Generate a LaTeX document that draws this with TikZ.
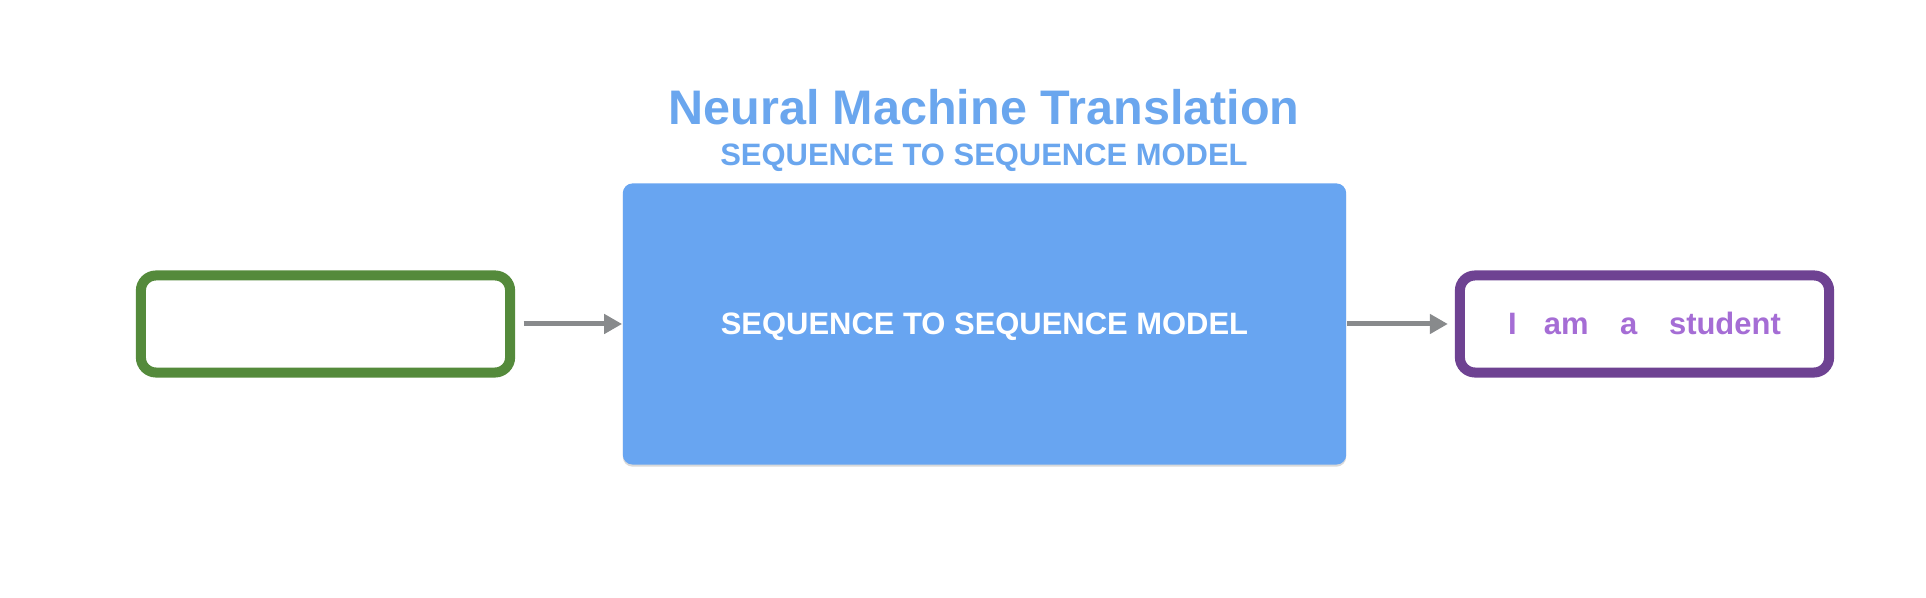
\documentclass[tikz,border=0pt]{standalone}
\usepackage{fontspec}
\setmainfont{Liberation Sans}
\usetikzlibrary{arrows.meta,shadows}
\definecolor{nmtblue}{HTML}{68A5F1}
\definecolor{titleblue}{HTML}{6AA6EE}
\definecolor{boxgreen}{HTML}{548A3B}
\definecolor{boxpurple}{HTML}{6E4292}
\definecolor{textpurple}{HTML}{A56DD5}
\definecolor{arrowgray}{HTML}{888A8C}
\tikzset{
  iobox/.style={draw, line width=2.85pt, rounded corners=4.3pt, fill=white,
    minimum width=3.69cm, minimum height=0.97cm, inner sep=0pt,
    text height=2.2mm, text depth=0pt},
  modelbox/.style={fill=nmtblue, rounded corners=2.8pt, inner sep=0pt,
    minimum width=7.23cm, minimum height=2.81cm,
    text height=2.2mm, text depth=0pt,
    drop shadow={shadow xshift=0pt, shadow yshift=-0.6pt, opacity=0.25, fill=black!60}},
  smalltxt/.style={font=\fontsize{8.8pt}{10pt}\selectfont\bfseries},
  titletxt/.style={font=\fontsize{13.8pt}{16pt}\selectfont\bfseries, text=titleblue, inner sep=0pt, anchor=base},
  flow/.style={draw=arrowgray, line width=1.42pt, -{Triangle[length=5.1pt, width=5.4pt]}}
}
\begin{document}
\begin{tikzpicture}[x=0.01cm, y=-0.01cm]
  \useasboundingbox (0,0) rectangle (1926,598);
  \node[titletxt] (title) at (984,125) {Neural Machine Translation};
  \node[titletxt, smalltxt] (subtitle) at (984,166) {SEQUENCE TO SEQUENCE MODEL};
  \node[modelbox, smalltxt, text=white] (model) at (984.5,324) {SEQUENCE TO SEQUENCE MODEL};
  \node[iobox, draw=boxgreen] (input) at (325.5,324) {};
  \node[iobox, draw=boxpurple, smalltxt, text=textpurple] (output) at (1644.5,324)
    {I\hspace{7.7pt}am\hspace{9pt}a\hspace{9pt}student};
  \draw[flow] ([xshift=2.4pt]input.east) -- (model.west);
  \draw[flow] (model.east) -- ([xshift=-2pt]output.west);
\end{tikzpicture}
\end{document}
